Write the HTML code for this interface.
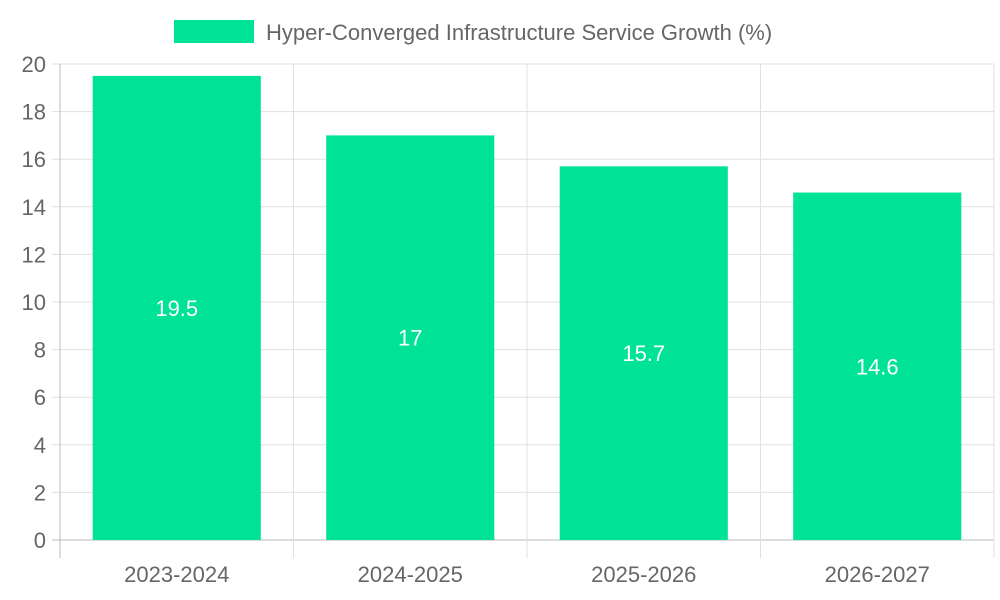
<!DOCTYPE html>
<html><head><meta charset="utf-8"><style>
html,body{margin:0;padding:0;background:#fff;}
svg{display:block;font-family:"Liberation Sans",sans-serif;}
</style></head><body>
<svg id="chart" width="1000" height="600">
<g>
<rect x="174" y="20" width="80" height="23" fill="#00e396"></rect>
<text x="266" y="40" font-size="22" fill="#666">Hyper-Converged Infrastructure Service Growth (%)</text>
</g>
<g id="grid"></g>
<g id="bars"></g>
<g id="axes"></g>
</svg>
<script>
const categories = ["2023-2024","2024-2025","2025-2026","2026-2027"];
const values = [19.5, 17, 15.7, 14.6];
const yTicks = [0,2,4,6,8,10,12,14,16,18,20];
const NS="http://www.w3.org/2000/svg";
const L=60,R=994,T=64,B=540,yMax=20;
const y=v=>B-(v/yMax)*(B-T);
const bw=(R-L)/categories.length;
const x=i=>L+i*bw;
function mk(tag,attrs,parent){const e=document.createElementNS(NS,tag);for(const k in attrs)e.setAttribute(k,attrs[k]);parent.appendChild(e);return e;}
const grid=document.getElementById('grid'),bars=document.getElementById('bars'),axes=document.getElementById('axes');
yTicks.forEach(t=>{
  const ln=mk('line',{x1:L-8,x2:R,y1:y(t),y2:y(t),stroke:t===0?'#bbb':'#e0e0e0','stroke-width':1},grid);
  
  
  const tx=mk('text',{x:L-14,y:y(t)+8,'text-anchor':'end','font-size':22,fill:'#666'},axes);
  tx.textContent=t;
  
  
});
for(let i=0;i<=categories.length;i++){
  const ln=mk('line',{x1:x(i),x2:x(i),y1:T,y2:B+18,stroke:i===0?'#bbb':'#e0e0e0','stroke-width':1},grid);
  
  
}
categories.forEach((c,i)=>{
  const w=bw*0.72,bx=x(i)+(bw-w)/2,top=y(values[i]);
  const r=mk('rect',{x:bx,y:top,width:w,height:B-top,fill:'#00e396'},bars);
  
  
  const v=mk('text',{x:bx+w/2,y:(top+B)/2+8,'text-anchor':'middle','font-size':22,fill:'#fff'},bars);
  v.textContent=values[i];
  
  
  const t=mk('text',{x:x(i)+bw/2,y:582,'text-anchor':'middle','font-size':22,fill:'#666'},axes);
  t.textContent=c;
  
  
});
</script>
</body></html>
